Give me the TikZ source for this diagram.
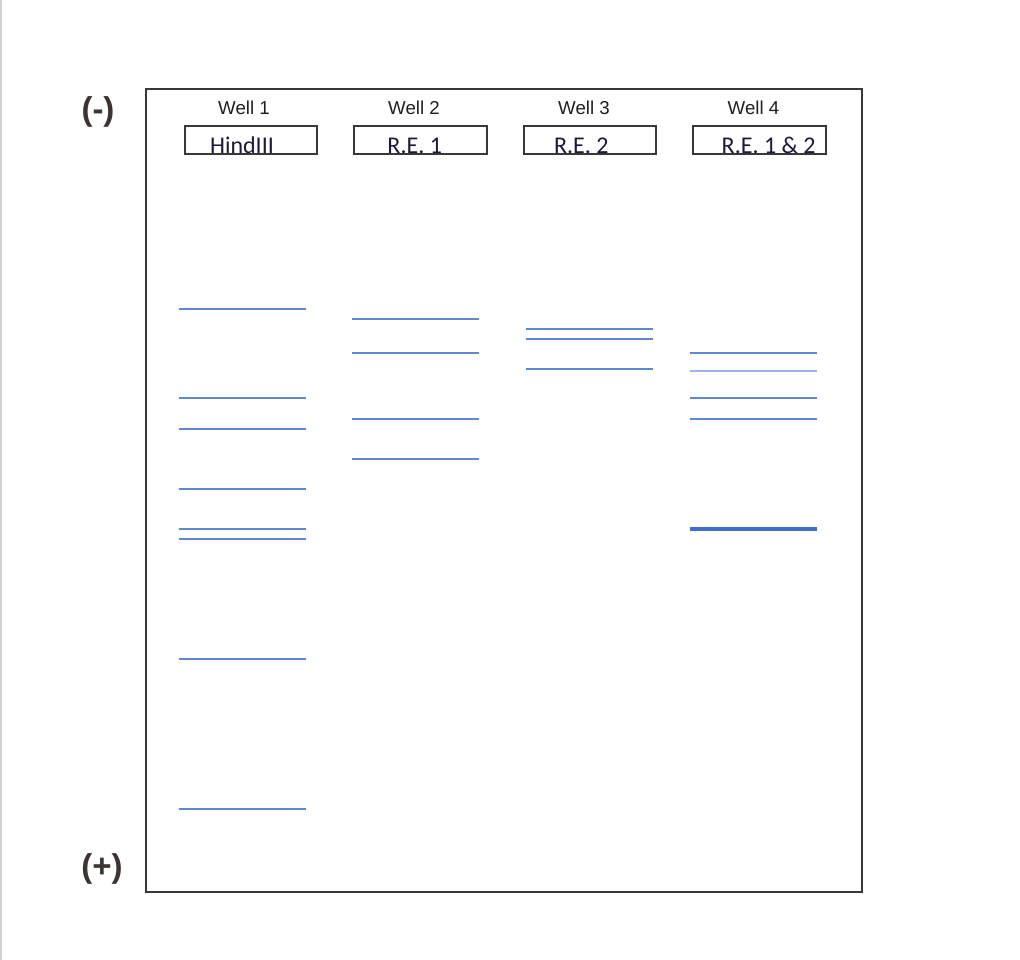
\documentclass[tikz,border=0pt]{standalone}
\usepackage{fontspec}
\setmainfont{Liberation Sans}
\newfontfamily\calfont{Carlito}
\definecolor{bandblue}{HTML}{5F87D3}
\definecolor{bandlight}{HTML}{9DB5E4}
\definecolor{bandthick}{HTML}{3E6FCB}
\definecolor{framegray}{HTML}{3A3837}
\definecolor{signcol}{HTML}{3B3430}
\definecolor{labnavy}{HTML}{1A1A3A}
\begin{document}
\begin{tikzpicture}[x=1pt,y=-1pt,
  gelframe/.style={draw=framegray,line width=2.5pt},
  wellbox/.style={draw=framegray,line width=2pt},
  welltxt/.style={anchor=base,inner sep=0pt,text=black!88,font=\fontsize{18.7}{20}\selectfont},
  enztxt/.style={anchor=base,inner sep=0pt,text=labnavy,font=\calfont\fontsize{24}{26}\selectfont},
  signtxt/.style={anchor=base,inner sep=0pt,text=signcol,font=\bfseries\fontsize{33}{36}\selectfont},
  band/.style={draw=bandblue,line width=1.5pt},
  bandpale/.style={draw=bandlight,line width=1.8pt},
  bandfat/.style={draw=bandthick,line width=3.2pt}]
\useasboundingbox (0,0) rectangle (1020,960);
\fill[white] (0,0) rectangle (1020,960);
\fill[black!18] (0,0) rectangle (2,960);
% gel frame
\draw[gelframe] (146,89) rectangle (862,892);
% signs
\node[signtxt] (neg) at (98,121) {(-)};
\node[signtxt] (pos) at (102,877) {(+)};
% well titles
\node[welltxt] (w1) at (244,115) {Well 1};
\node[welltxt] (w2) at (414,115) {Well 2};
\node[welltxt] (w3) at (584,115) {Well 3};
\node[welltxt] (w4) at (753.5,115) {Well 4};
% label boxes
\draw[wellbox] (184.5,126) rectangle (316.5,154.5);
\draw[wellbox] (353.5,126) rectangle (486.5,154.5);
\draw[wellbox] (523.5,126) rectangle (655.5,154.5);
\draw[wellbox] (693,126) rectangle (825.5,154.5);
\node[enztxt] (e1) at (242,154) {HindIII};
\node[enztxt] (e2) at (414.7,154) {R.E. 1};
\node[enztxt] (e3) at (581.3,154) {R.E. 2};
\node[enztxt] (e4) at (768.7,154) {R.E. 1 \& 2};
% lane 1
\foreach \y in {309,398,429,489,529,539,659,809}
  \draw[band] (178.5,\y) -- (305.5,\y);
% lane 2
\foreach \y in {319,353,419,459}
  \draw[band] (352,\y) -- (479,\y);
% lane 3
\foreach \y in {329,339,369}
  \draw[band] (526,\y) -- (652.5,\y);
% lane 4
\foreach \y in {353,398,419}
  \draw[band] (689.5,\y) -- (816.5,\y);
\draw[bandpale] (690,371) -- (816.5,371);
\draw[bandfat] (689.5,529) -- (816.5,529);
\end{tikzpicture}
\end{document}
